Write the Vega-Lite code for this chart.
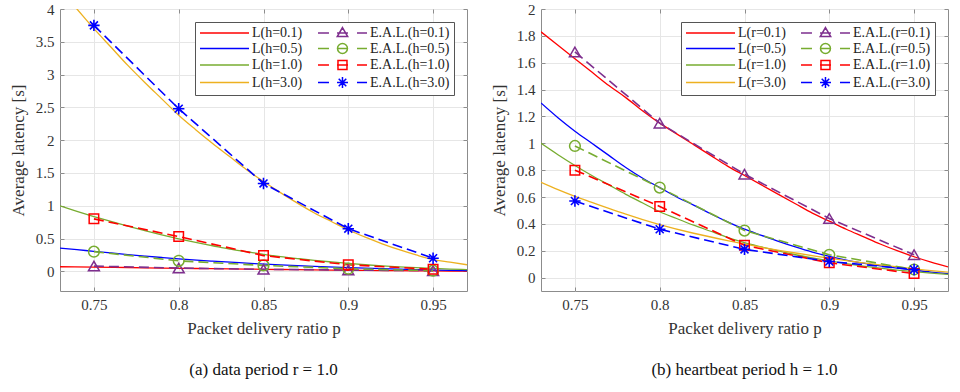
{
  "$schema": "https://vega.github.io/schema/vega-lite/v6.json",
  "background": "white",
  "padding": {"left": 8, "top": 1, "right": 5, "bottom": 0},
  "spacing": 21,
  "config": {
    "view": {"stroke": "#8c8c8c", "strokeWidth": 1},
    "axis": {"domain": false, "gridColor": "#e6e6e6", "gridWidth": 1, "tickColor": "#8c8c8c", "tickSize": -4, "labelFont": "Liberation Serif, DejaVu Serif, serif", "labelFontSize": 15, "labelColor": "#333333", "labelPadding": 10, "titleFont": "Liberation Serif, DejaVu Serif, serif", "titleFontSize": 17, "titleFontWeight": "normal", "titleColor": "#333333"},
    "legend": {"orient": "top-right", "offset": 13, "fillColor": "white", "strokeColor": "#555555", "padding": 4, "columns": 2, "columnPadding": 12, "rowPadding": 0.5, "labelOffset": 39, "labelFont": "Liberation Serif, DejaVu Serif, serif", "labelFontSize": 14, "labelColor": "#222222", "symbolSize": 144, "symbolStrokeWidth": 1.5},
    "title": {"font": "Liberation Serif, DejaVu Serif, serif", "fontSize": 17, "fontWeight": "normal", "color": "#111111", "orient": "bottom", "anchor": "middle", "offset": 26}
  },
  "resolve": {"scale": {"color": "independent", "shape": "independent"}, "legend": {"color": "independent", "shape": "independent"}},
  "hconcat": [
    {
      "width": 407,
      "height": 282,
      "title": "(a) data period r = 1.0",
      "data": {"values": [
        {"s": "L(h=0.1)", "k": "L", "p": 0.73, "v": 0.07},
        {"s": "L(h=0.1)", "k": "L", "p": 0.75, "v": 0.065},
        {"s": "L(h=0.1)", "k": "L", "p": 0.77, "v": 0.058},
        {"s": "L(h=0.1)", "k": "L", "p": 0.79, "v": 0.05},
        {"s": "L(h=0.1)", "k": "L", "p": 0.81, "v": 0.043},
        {"s": "L(h=0.1)", "k": "L", "p": 0.83, "v": 0.037},
        {"s": "L(h=0.1)", "k": "L", "p": 0.85, "v": 0.031},
        {"s": "L(h=0.1)", "k": "L", "p": 0.87, "v": 0.025},
        {"s": "L(h=0.1)", "k": "L", "p": 0.89, "v": 0.019},
        {"s": "L(h=0.1)", "k": "L", "p": 0.91, "v": 0.014},
        {"s": "L(h=0.1)", "k": "L", "p": 0.93, "v": 0.01},
        {"s": "L(h=0.1)", "k": "L", "p": 0.95, "v": 0.006},
        {"s": "L(h=0.1)", "k": "L", "p": 0.97, "v": 0.003},
        {"s": "L(h=0.5)", "k": "L", "p": 0.73, "v": 0.355},
        {"s": "L(h=0.5)", "k": "L", "p": 0.74, "v": 0.33},
        {"s": "L(h=0.5)", "k": "L", "p": 0.75, "v": 0.305},
        {"s": "L(h=0.5)", "k": "L", "p": 0.76, "v": 0.28},
        {"s": "L(h=0.5)", "k": "L", "p": 0.77, "v": 0.256},
        {"s": "L(h=0.5)", "k": "L", "p": 0.78, "v": 0.233},
        {"s": "L(h=0.5)", "k": "L", "p": 0.79, "v": 0.211},
        {"s": "L(h=0.5)", "k": "L", "p": 0.8, "v": 0.19},
        {"s": "L(h=0.5)", "k": "L", "p": 0.82, "v": 0.155},
        {"s": "L(h=0.5)", "k": "L", "p": 0.84, "v": 0.125},
        {"s": "L(h=0.5)", "k": "L", "p": 0.86, "v": 0.097},
        {"s": "L(h=0.5)", "k": "L", "p": 0.88, "v": 0.075},
        {"s": "L(h=0.5)", "k": "L", "p": 0.9, "v": 0.056},
        {"s": "L(h=0.5)", "k": "L", "p": 0.92, "v": 0.04},
        {"s": "L(h=0.5)", "k": "L", "p": 0.94, "v": 0.027},
        {"s": "L(h=0.5)", "k": "L", "p": 0.96, "v": 0.016},
        {"s": "L(h=0.5)", "k": "L", "p": 0.97, "v": 0.011},
        {"s": "L(h=1.0)", "k": "L", "p": 0.73, "v": 1.0},
        {"s": "L(h=1.0)", "k": "L", "p": 0.74, "v": 0.915},
        {"s": "L(h=1.0)", "k": "L", "p": 0.75, "v": 0.835},
        {"s": "L(h=1.0)", "k": "L", "p": 0.76, "v": 0.76},
        {"s": "L(h=1.0)", "k": "L", "p": 0.77, "v": 0.69},
        {"s": "L(h=1.0)", "k": "L", "p": 0.78, "v": 0.62},
        {"s": "L(h=1.0)", "k": "L", "p": 0.79, "v": 0.555},
        {"s": "L(h=1.0)", "k": "L", "p": 0.8, "v": 0.495},
        {"s": "L(h=1.0)", "k": "L", "p": 0.81, "v": 0.44},
        {"s": "L(h=1.0)", "k": "L", "p": 0.82, "v": 0.39},
        {"s": "L(h=1.0)", "k": "L", "p": 0.83, "v": 0.34},
        {"s": "L(h=1.0)", "k": "L", "p": 0.84, "v": 0.3},
        {"s": "L(h=1.0)", "k": "L", "p": 0.85, "v": 0.26},
        {"s": "L(h=1.0)", "k": "L", "p": 0.86, "v": 0.225},
        {"s": "L(h=1.0)", "k": "L", "p": 0.87, "v": 0.195},
        {"s": "L(h=1.0)", "k": "L", "p": 0.88, "v": 0.167},
        {"s": "L(h=1.0)", "k": "L", "p": 0.89, "v": 0.143},
        {"s": "L(h=1.0)", "k": "L", "p": 0.9, "v": 0.12},
        {"s": "L(h=1.0)", "k": "L", "p": 0.91, "v": 0.1},
        {"s": "L(h=1.0)", "k": "L", "p": 0.92, "v": 0.083},
        {"s": "L(h=1.0)", "k": "L", "p": 0.93, "v": 0.068},
        {"s": "L(h=1.0)", "k": "L", "p": 0.94, "v": 0.055},
        {"s": "L(h=1.0)", "k": "L", "p": 0.95, "v": 0.044},
        {"s": "L(h=1.0)", "k": "L", "p": 0.96, "v": 0.034},
        {"s": "L(h=1.0)", "k": "L", "p": 0.97, "v": 0.026},
        {"s": "L(h=3.0)", "k": "L", "p": 0.73, "v": 4.3},
        {"s": "L(h=3.0)", "k": "L", "p": 0.74, "v": 4.0},
        {"s": "L(h=3.0)", "k": "L", "p": 0.75, "v": 3.7},
        {"s": "L(h=3.0)", "k": "L", "p": 0.76, "v": 3.42},
        {"s": "L(h=3.0)", "k": "L", "p": 0.77, "v": 3.14},
        {"s": "L(h=3.0)", "k": "L", "p": 0.78, "v": 2.88},
        {"s": "L(h=3.0)", "k": "L", "p": 0.79, "v": 2.63},
        {"s": "L(h=3.0)", "k": "L", "p": 0.8, "v": 2.38},
        {"s": "L(h=3.0)", "k": "L", "p": 0.81, "v": 2.16},
        {"s": "L(h=3.0)", "k": "L", "p": 0.82, "v": 1.95},
        {"s": "L(h=3.0)", "k": "L", "p": 0.83, "v": 1.75},
        {"s": "L(h=3.0)", "k": "L", "p": 0.84, "v": 1.55},
        {"s": "L(h=3.0)", "k": "L", "p": 0.85, "v": 1.37},
        {"s": "L(h=3.0)", "k": "L", "p": 0.86, "v": 1.2},
        {"s": "L(h=3.0)", "k": "L", "p": 0.87, "v": 1.04},
        {"s": "L(h=3.0)", "k": "L", "p": 0.88, "v": 0.89},
        {"s": "L(h=3.0)", "k": "L", "p": 0.89, "v": 0.76},
        {"s": "L(h=3.0)", "k": "L", "p": 0.9, "v": 0.63},
        {"s": "L(h=3.0)", "k": "L", "p": 0.91, "v": 0.52},
        {"s": "L(h=3.0)", "k": "L", "p": 0.92, "v": 0.42},
        {"s": "L(h=3.0)", "k": "L", "p": 0.93, "v": 0.33},
        {"s": "L(h=3.0)", "k": "L", "p": 0.94, "v": 0.25},
        {"s": "L(h=3.0)", "k": "L", "p": 0.95, "v": 0.18},
        {"s": "L(h=3.0)", "k": "L", "p": 0.96, "v": 0.14},
        {"s": "L(h=3.0)", "k": "L", "p": 0.97, "v": 0.1},
        {"s": "E.A.L.(h=0.1)", "k": "E", "p": 0.75, "v": 0.08},
        {"s": "E.A.L.(h=0.1)", "k": "E", "p": 0.8, "v": 0.05},
        {"s": "E.A.L.(h=0.1)", "k": "E", "p": 0.85, "v": 0.03},
        {"s": "E.A.L.(h=0.1)", "k": "E", "p": 0.9, "v": 0.02},
        {"s": "E.A.L.(h=0.1)", "k": "E", "p": 0.95, "v": 0.01},
        {"s": "E.A.L.(h=0.5)", "k": "E", "p": 0.75, "v": 0.3},
        {"s": "E.A.L.(h=0.5)", "k": "E", "p": 0.8, "v": 0.16},
        {"s": "E.A.L.(h=0.5)", "k": "E", "p": 0.85, "v": 0.09},
        {"s": "E.A.L.(h=0.5)", "k": "E", "p": 0.9, "v": 0.04},
        {"s": "E.A.L.(h=0.5)", "k": "E", "p": 0.95, "v": 0.01},
        {"s": "E.A.L.(h=1.0)", "k": "E", "p": 0.75, "v": 0.8},
        {"s": "E.A.L.(h=1.0)", "k": "E", "p": 0.8, "v": 0.53},
        {"s": "E.A.L.(h=1.0)", "k": "E", "p": 0.85, "v": 0.24},
        {"s": "E.A.L.(h=1.0)", "k": "E", "p": 0.9, "v": 0.1},
        {"s": "E.A.L.(h=1.0)", "k": "E", "p": 0.95, "v": 0.03},
        {"s": "E.A.L.(h=3.0)", "k": "E", "p": 0.75, "v": 3.75},
        {"s": "E.A.L.(h=3.0)", "k": "E", "p": 0.8, "v": 2.48},
        {"s": "E.A.L.(h=3.0)", "k": "E", "p": 0.85, "v": 1.34},
        {"s": "E.A.L.(h=3.0)", "k": "E", "p": 0.9, "v": 0.65},
        {"s": "E.A.L.(h=3.0)", "k": "E", "p": 0.95, "v": 0.2}
      ]},
      "encoding": {
        "x": {"field": "p", "type": "quantitative", "scale": {"domain": [0.73, 0.97], "nice": false, "zero": false}, "axis": null},
        "y": {"field": "v", "type": "quantitative", "scale": {"domain": [-0.3, 4], "nice": false, "zero": false}, "axis": null},
        "color": {"field": "s", "type": "nominal", "scale": {"domain": ["L(h=0.1)", "L(h=0.5)", "L(h=1.0)", "L(h=3.0)", "E.A.L.(h=0.1)", "E.A.L.(h=0.5)", "E.A.L.(h=1.0)", "E.A.L.(h=3.0)"], "range": ["#ff0000", "#0000ff", "#77ac30", "#edb120", "#7e2f8e", "#77ac30", "#ff0000", "#0000ff"]}, "legend": null}
      },
      "resolve": {"axis": {"x": "independent", "y": "independent"}},
      "layer": [
        {
          "transform": [{"filter": "datum.p > 5"}],
          "mark": {"type": "point", "filled": false, "strokeWidth": 1.5, "opacity": 1},
          "encoding": {
            "x": {"field": "p", "type": "quantitative", "scale": {"domain": [0.73, 0.97], "nice": false, "zero": false}, "axis": {"orient": "top", "values": [0.75, 0.8, 0.85, 0.9, 0.95], "labels": false, "title": null, "grid": false}},
            "y": {"field": "v", "type": "quantitative", "scale": {"domain": [-0.3, 4], "nice": false, "zero": false}, "axis": {"orient": "right", "values": [0, 0.5, 1, 1.5, 2, 2.5, 3, 3.5, 4], "labels": false, "title": null, "grid": false}},
            "color": {"field": "s", "type": "nominal", "scale": {"domain": ["L(h=0.1)", "L(h=0.5)", "L(h=1.0)", "L(h=3.0)", "E.A.L.(h=0.1)", "E.A.L.(h=0.5)", "E.A.L.(h=1.0)", "E.A.L.(h=3.0)"], "range": ["#ff0000", "#0000ff", "#77ac30", "#edb120", "#7e2f8e", "#77ac30", "#ff0000", "#0000ff"]}, "legend": {"title": null}},
            "shape": {"field": "s", "type": "nominal", "scale": {"domain": ["L(h=0.1)", "L(h=0.5)", "L(h=1.0)", "L(h=3.0)", "E.A.L.(h=0.1)", "E.A.L.(h=0.5)", "E.A.L.(h=1.0)", "E.A.L.(h=3.0)"], "range": [
              "M-1,0H7.17",
              "M-1,0H7.17",
              "M-1,0H7.17",
              "M-1,0H7.17",
              "M-1,0H0.83M2.17,0H4M5.5,0H7.17M3.08,-0.9L3.95,0.6L2.21,0.6Z",
              "M-1,0H0.83M2.17,0H4M5.5,0H7.17M2.25,0A0.83,0.83 0 1,0 3.91,0A0.83,0.83 0 1,0 2.25,0",
              "M-1,0H0.83M2.17,0H4M5.5,0H7.17M2.33,-0.75H3.83V0.75H2.33Z",
              "M-1,0H0.83M2.17,0H4M5.5,0H7.17M3.08,-0.9V0.9M2.18,0H3.98M2.45,-0.63L3.71,0.63M2.45,0.63L3.71,-0.63"
            ]}, "legend": {"title": null}}
          }
        },
        {
          "transform": [{"filter": "datum.k == 'L'"}],
          "mark": {"type": "line", "interpolate": "monotone", "strokeWidth": 1.3, "clip": true},
          "encoding": {
            "x": {"field": "p", "type": "quantitative", "scale": {"domain": [0.73, 0.97], "nice": false, "zero": false}, "axis": {"orient": "bottom", "values": [0.75, 0.8, 0.85, 0.9, 0.95], "format": ".2~f", "title": "Packet delivery ratio p", "grid": true, "titlePadding": 8}},
            "y": {"field": "v", "type": "quantitative", "scale": {"domain": [-0.3, 4], "nice": false, "zero": false}, "axis": {"orient": "left", "values": [0, 0.5, 1, 1.5, 2, 2.5, 3, 3.5, 4], "format": ".1~f", "title": "Average latency [s]", "grid": true, "titlePadding": 8}}
          }
        },
        {
          "transform": [{"filter": "datum.k == 'E'"}],
          "mark": {"type": "line", "strokeWidth": 1.6, "strokeDash": [10, 5], "clip": true}
        },
        {
          "transform": [{"filter": "datum.s == 'E.A.L.(h=0.1)'"}],
          "mark": {"type": "point", "shape": "triangle-up", "filled": false, "size": 120, "strokeWidth": 1.5, "opacity": 1}
        },
        {
          "transform": [{"filter": "datum.s == 'E.A.L.(h=0.5)'"}],
          "mark": {"type": "point", "shape": "circle", "filled": false, "size": 115, "strokeWidth": 1.5, "opacity": 1}
        },
        {
          "transform": [{"filter": "datum.s == 'E.A.L.(h=1.0)'"}],
          "mark": {"type": "point", "shape": "square", "filled": false, "size": 90, "strokeWidth": 1.5, "opacity": 1}
        },
        {
          "transform": [{"filter": "datum.s == 'E.A.L.(h=3.0)'"}],
          "mark": {"type": "point", "shape": "M0,-1V1M-1,0H1M-0.7,-0.7L0.7,0.7M-0.7,0.7L0.7,-0.7", "filled": false, "size": 130, "strokeWidth": 1.6, "opacity": 1}
        }
      ]
    },
    {
      "width": 407,
      "height": 282,
      "title": "(b) heartbeat period h = 1.0",
      "data": {"values": [
        {"s": "L(r=0.1)", "k": "L", "p": 0.73, "v": 1.83},
        {"s": "L(r=0.1)", "k": "L", "p": 0.74, "v": 1.73},
        {"s": "L(r=0.1)", "k": "L", "p": 0.75, "v": 1.63},
        {"s": "L(r=0.1)", "k": "L", "p": 0.76, "v": 1.53},
        {"s": "L(r=0.1)", "k": "L", "p": 0.77, "v": 1.43},
        {"s": "L(r=0.1)", "k": "L", "p": 0.78, "v": 1.34},
        {"s": "L(r=0.1)", "k": "L", "p": 0.79, "v": 1.24},
        {"s": "L(r=0.1)", "k": "L", "p": 0.8, "v": 1.15},
        {"s": "L(r=0.1)", "k": "L", "p": 0.81, "v": 1.07},
        {"s": "L(r=0.1)", "k": "L", "p": 0.82, "v": 0.99},
        {"s": "L(r=0.1)", "k": "L", "p": 0.83, "v": 0.91},
        {"s": "L(r=0.1)", "k": "L", "p": 0.84, "v": 0.83},
        {"s": "L(r=0.1)", "k": "L", "p": 0.85, "v": 0.76},
        {"s": "L(r=0.1)", "k": "L", "p": 0.86, "v": 0.69},
        {"s": "L(r=0.1)", "k": "L", "p": 0.87, "v": 0.62},
        {"s": "L(r=0.1)", "k": "L", "p": 0.88, "v": 0.55},
        {"s": "L(r=0.1)", "k": "L", "p": 0.89, "v": 0.48},
        {"s": "L(r=0.1)", "k": "L", "p": 0.9, "v": 0.42},
        {"s": "L(r=0.1)", "k": "L", "p": 0.91, "v": 0.36},
        {"s": "L(r=0.1)", "k": "L", "p": 0.92, "v": 0.305},
        {"s": "L(r=0.1)", "k": "L", "p": 0.93, "v": 0.25},
        {"s": "L(r=0.1)", "k": "L", "p": 0.94, "v": 0.2},
        {"s": "L(r=0.1)", "k": "L", "p": 0.95, "v": 0.155},
        {"s": "L(r=0.1)", "k": "L", "p": 0.96, "v": 0.115},
        {"s": "L(r=0.1)", "k": "L", "p": 0.97, "v": 0.08},
        {"s": "L(r=0.5)", "k": "L", "p": 0.73, "v": 1.3},
        {"s": "L(r=0.5)", "k": "L", "p": 0.74, "v": 1.19},
        {"s": "L(r=0.5)", "k": "L", "p": 0.75, "v": 1.09},
        {"s": "L(r=0.5)", "k": "L", "p": 0.76, "v": 1.0},
        {"s": "L(r=0.5)", "k": "L", "p": 0.77, "v": 0.91},
        {"s": "L(r=0.5)", "k": "L", "p": 0.78, "v": 0.82},
        {"s": "L(r=0.5)", "k": "L", "p": 0.79, "v": 0.74},
        {"s": "L(r=0.5)", "k": "L", "p": 0.8, "v": 0.67},
        {"s": "L(r=0.5)", "k": "L", "p": 0.81, "v": 0.6},
        {"s": "L(r=0.5)", "k": "L", "p": 0.82, "v": 0.54},
        {"s": "L(r=0.5)", "k": "L", "p": 0.83, "v": 0.475},
        {"s": "L(r=0.5)", "k": "L", "p": 0.84, "v": 0.415},
        {"s": "L(r=0.5)", "k": "L", "p": 0.85, "v": 0.36},
        {"s": "L(r=0.5)", "k": "L", "p": 0.86, "v": 0.315},
        {"s": "L(r=0.5)", "k": "L", "p": 0.87, "v": 0.27},
        {"s": "L(r=0.5)", "k": "L", "p": 0.88, "v": 0.228},
        {"s": "L(r=0.5)", "k": "L", "p": 0.89, "v": 0.19},
        {"s": "L(r=0.5)", "k": "L", "p": 0.9, "v": 0.158},
        {"s": "L(r=0.5)", "k": "L", "p": 0.91, "v": 0.13},
        {"s": "L(r=0.5)", "k": "L", "p": 0.92, "v": 0.107},
        {"s": "L(r=0.5)", "k": "L", "p": 0.93, "v": 0.087},
        {"s": "L(r=0.5)", "k": "L", "p": 0.94, "v": 0.07},
        {"s": "L(r=0.5)", "k": "L", "p": 0.95, "v": 0.055},
        {"s": "L(r=0.5)", "k": "L", "p": 0.96, "v": 0.041},
        {"s": "L(r=0.5)", "k": "L", "p": 0.97, "v": 0.03},
        {"s": "L(r=1.0)", "k": "L", "p": 0.73, "v": 1.0},
        {"s": "L(r=1.0)", "k": "L", "p": 0.74, "v": 0.915},
        {"s": "L(r=1.0)", "k": "L", "p": 0.75, "v": 0.835},
        {"s": "L(r=1.0)", "k": "L", "p": 0.76, "v": 0.76},
        {"s": "L(r=1.0)", "k": "L", "p": 0.77, "v": 0.69},
        {"s": "L(r=1.0)", "k": "L", "p": 0.78, "v": 0.62},
        {"s": "L(r=1.0)", "k": "L", "p": 0.79, "v": 0.555},
        {"s": "L(r=1.0)", "k": "L", "p": 0.8, "v": 0.49},
        {"s": "L(r=1.0)", "k": "L", "p": 0.81, "v": 0.44},
        {"s": "L(r=1.0)", "k": "L", "p": 0.82, "v": 0.39},
        {"s": "L(r=1.0)", "k": "L", "p": 0.83, "v": 0.345},
        {"s": "L(r=1.0)", "k": "L", "p": 0.84, "v": 0.3},
        {"s": "L(r=1.0)", "k": "L", "p": 0.85, "v": 0.26},
        {"s": "L(r=1.0)", "k": "L", "p": 0.86, "v": 0.228},
        {"s": "L(r=1.0)", "k": "L", "p": 0.87, "v": 0.198},
        {"s": "L(r=1.0)", "k": "L", "p": 0.88, "v": 0.17},
        {"s": "L(r=1.0)", "k": "L", "p": 0.89, "v": 0.146},
        {"s": "L(r=1.0)", "k": "L", "p": 0.9, "v": 0.124},
        {"s": "L(r=1.0)", "k": "L", "p": 0.91, "v": 0.104},
        {"s": "L(r=1.0)", "k": "L", "p": 0.92, "v": 0.086},
        {"s": "L(r=1.0)", "k": "L", "p": 0.93, "v": 0.07},
        {"s": "L(r=1.0)", "k": "L", "p": 0.94, "v": 0.056},
        {"s": "L(r=1.0)", "k": "L", "p": 0.95, "v": 0.044},
        {"s": "L(r=1.0)", "k": "L", "p": 0.96, "v": 0.033},
        {"s": "L(r=1.0)", "k": "L", "p": 0.97, "v": 0.024},
        {"s": "L(r=3.0)", "k": "L", "p": 0.73, "v": 0.71},
        {"s": "L(r=3.0)", "k": "L", "p": 0.74, "v": 0.655},
        {"s": "L(r=3.0)", "k": "L", "p": 0.75, "v": 0.605},
        {"s": "L(r=3.0)", "k": "L", "p": 0.76, "v": 0.56},
        {"s": "L(r=3.0)", "k": "L", "p": 0.77, "v": 0.515},
        {"s": "L(r=3.0)", "k": "L", "p": 0.78, "v": 0.472},
        {"s": "L(r=3.0)", "k": "L", "p": 0.79, "v": 0.432},
        {"s": "L(r=3.0)", "k": "L", "p": 0.8, "v": 0.395},
        {"s": "L(r=3.0)", "k": "L", "p": 0.82, "v": 0.33},
        {"s": "L(r=3.0)", "k": "L", "p": 0.84, "v": 0.275},
        {"s": "L(r=3.0)", "k": "L", "p": 0.86, "v": 0.226},
        {"s": "L(r=3.0)", "k": "L", "p": 0.88, "v": 0.183},
        {"s": "L(r=3.0)", "k": "L", "p": 0.9, "v": 0.145},
        {"s": "L(r=3.0)", "k": "L", "p": 0.92, "v": 0.11},
        {"s": "L(r=3.0)", "k": "L", "p": 0.94, "v": 0.08},
        {"s": "L(r=3.0)", "k": "L", "p": 0.96, "v": 0.052},
        {"s": "L(r=3.0)", "k": "L", "p": 0.97, "v": 0.04},
        {"s": "E.A.L.(r=0.1)", "k": "E", "p": 0.75, "v": 1.68},
        {"s": "E.A.L.(r=0.1)", "k": "E", "p": 0.8, "v": 1.15},
        {"s": "E.A.L.(r=0.1)", "k": "E", "p": 0.85, "v": 0.77},
        {"s": "E.A.L.(r=0.1)", "k": "E", "p": 0.9, "v": 0.44},
        {"s": "E.A.L.(r=0.1)", "k": "E", "p": 0.95, "v": 0.17},
        {"s": "E.A.L.(r=0.5)", "k": "E", "p": 0.75, "v": 0.98},
        {"s": "E.A.L.(r=0.5)", "k": "E", "p": 0.8, "v": 0.67},
        {"s": "E.A.L.(r=0.5)", "k": "E", "p": 0.85, "v": 0.35},
        {"s": "E.A.L.(r=0.5)", "k": "E", "p": 0.9, "v": 0.17},
        {"s": "E.A.L.(r=0.5)", "k": "E", "p": 0.95, "v": 0.06},
        {"s": "E.A.L.(r=1.0)", "k": "E", "p": 0.75, "v": 0.8},
        {"s": "E.A.L.(r=1.0)", "k": "E", "p": 0.8, "v": 0.53},
        {"s": "E.A.L.(r=1.0)", "k": "E", "p": 0.85, "v": 0.24},
        {"s": "E.A.L.(r=1.0)", "k": "E", "p": 0.9, "v": 0.11},
        {"s": "E.A.L.(r=1.0)", "k": "E", "p": 0.95, "v": 0.03},
        {"s": "E.A.L.(r=3.0)", "k": "E", "p": 0.75, "v": 0.57},
        {"s": "E.A.L.(r=3.0)", "k": "E", "p": 0.8, "v": 0.36},
        {"s": "E.A.L.(r=3.0)", "k": "E", "p": 0.85, "v": 0.21},
        {"s": "E.A.L.(r=3.0)", "k": "E", "p": 0.9, "v": 0.12},
        {"s": "E.A.L.(r=3.0)", "k": "E", "p": 0.95, "v": 0.06}
      ]},
      "encoding": {
        "x": {"field": "p", "type": "quantitative", "scale": {"domain": [0.73, 0.97], "nice": false, "zero": false}, "axis": null},
        "y": {"field": "v", "type": "quantitative", "scale": {"domain": [-0.1, 2], "nice": false, "zero": false}, "axis": null},
        "color": {"field": "s", "type": "nominal", "scale": {"domain": ["L(r=0.1)", "L(r=0.5)", "L(r=1.0)", "L(r=3.0)", "E.A.L.(r=0.1)", "E.A.L.(r=0.5)", "E.A.L.(r=1.0)", "E.A.L.(r=3.0)"], "range": ["#ff0000", "#0000ff", "#77ac30", "#edb120", "#7e2f8e", "#77ac30", "#ff0000", "#0000ff"]}, "legend": null}
      },
      "resolve": {"axis": {"x": "independent", "y": "independent"}},
      "layer": [
        {
          "transform": [{"filter": "datum.p > 5"}],
          "mark": {"type": "point", "filled": false, "strokeWidth": 1.5, "opacity": 1},
          "encoding": {
            "x": {"field": "p", "type": "quantitative", "scale": {"domain": [0.73, 0.97], "nice": false, "zero": false}, "axis": {"orient": "top", "values": [0.75, 0.8, 0.85, 0.9, 0.95], "labels": false, "title": null, "grid": false}},
            "y": {"field": "v", "type": "quantitative", "scale": {"domain": [-0.1, 2], "nice": false, "zero": false}, "axis": {"orient": "right", "values": [0, 0.2, 0.4, 0.6, 0.8, 1, 1.2, 1.4, 1.6, 1.8, 2], "labels": false, "title": null, "grid": false}},
            "color": {"field": "s", "type": "nominal", "scale": {"domain": ["L(r=0.1)", "L(r=0.5)", "L(r=1.0)", "L(r=3.0)", "E.A.L.(r=0.1)", "E.A.L.(r=0.5)", "E.A.L.(r=1.0)", "E.A.L.(r=3.0)"], "range": ["#ff0000", "#0000ff", "#77ac30", "#edb120", "#7e2f8e", "#77ac30", "#ff0000", "#0000ff"]}, "legend": {"title": null}},
            "shape": {"field": "s", "type": "nominal", "scale": {"domain": ["L(r=0.1)", "L(r=0.5)", "L(r=1.0)", "L(r=3.0)", "E.A.L.(r=0.1)", "E.A.L.(r=0.5)", "E.A.L.(r=1.0)", "E.A.L.(r=3.0)"], "range": [
              "M-1,0H7.17",
              "M-1,0H7.17",
              "M-1,0H7.17",
              "M-1,0H7.17",
              "M-1,0H0.83M2.17,0H4M5.5,0H7.17M3.08,-0.9L3.95,0.6L2.21,0.6Z",
              "M-1,0H0.83M2.17,0H4M5.5,0H7.17M2.25,0A0.83,0.83 0 1,0 3.91,0A0.83,0.83 0 1,0 2.25,0",
              "M-1,0H0.83M2.17,0H4M5.5,0H7.17M2.33,-0.75H3.83V0.75H2.33Z",
              "M-1,0H0.83M2.17,0H4M5.5,0H7.17M3.08,-0.9V0.9M2.18,0H3.98M2.45,-0.63L3.71,0.63M2.45,0.63L3.71,-0.63"
            ]}, "legend": {"title": null}}
          }
        },
        {
          "transform": [{"filter": "datum.k == 'L'"}],
          "mark": {"type": "line", "interpolate": "monotone", "strokeWidth": 1.3, "clip": true},
          "encoding": {
            "x": {"field": "p", "type": "quantitative", "scale": {"domain": [0.73, 0.97], "nice": false, "zero": false}, "axis": {"orient": "bottom", "values": [0.75, 0.8, 0.85, 0.9, 0.95], "format": ".2~f", "title": "Packet delivery ratio p", "grid": true, "titlePadding": 8}},
            "y": {"field": "v", "type": "quantitative", "scale": {"domain": [-0.1, 2], "nice": false, "zero": false}, "axis": {"orient": "left", "values": [0, 0.2, 0.4, 0.6, 0.8, 1, 1.2, 1.4, 1.6, 1.8, 2], "format": ".1~f", "title": "Average latency [s]", "grid": true, "titlePadding": 8}}
          }
        },
        {
          "transform": [{"filter": "datum.k == 'E'"}],
          "mark": {"type": "line", "strokeWidth": 1.6, "strokeDash": [10, 5], "clip": true}
        },
        {
          "transform": [{"filter": "datum.s == 'E.A.L.(r=0.1)'"}],
          "mark": {"type": "point", "shape": "triangle-up", "filled": false, "size": 120, "strokeWidth": 1.5, "opacity": 1}
        },
        {
          "transform": [{"filter": "datum.s == 'E.A.L.(r=0.5)'"}],
          "mark": {"type": "point", "shape": "circle", "filled": false, "size": 115, "strokeWidth": 1.5, "opacity": 1}
        },
        {
          "transform": [{"filter": "datum.s == 'E.A.L.(r=1.0)'"}],
          "mark": {"type": "point", "shape": "square", "filled": false, "size": 90, "strokeWidth": 1.5, "opacity": 1}
        },
        {
          "transform": [{"filter": "datum.s == 'E.A.L.(r=3.0)'"}],
          "mark": {"type": "point", "shape": "M0,-1V1M-1,0H1M-0.7,-0.7L0.7,0.7M-0.7,0.7L0.7,-0.7", "filled": false, "size": 130, "strokeWidth": 1.6, "opacity": 1}
        }
      ]
    }
  ]
}
